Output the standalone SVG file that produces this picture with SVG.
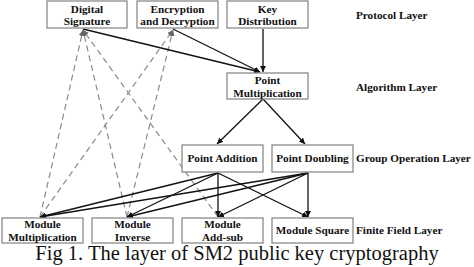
<svg xmlns="http://www.w3.org/2000/svg" width="474" height="267" viewBox="0 0 474 267">
<style>
.box{fill:#fff;stroke:#8a8a8a;stroke-width:1.3}
.t{font-family:"Liberation Serif","Times New Roman",serif;font-weight:bold;font-size:11.2px;fill:#111;text-anchor:middle}
.lbl{font-family:"Liberation Serif","Times New Roman",serif;font-weight:bold;font-size:11.2px;fill:#111}
.s{stroke:#111;stroke-width:1.3;fill:none;marker-end:url(#ah)}
.d{stroke:#8a8a8a;stroke-width:1.2;fill:none;stroke-dasharray:6,4;marker-end:url(#ahg)}
.cap{font-family:"Liberation Serif","Times New Roman",serif;font-size:20.5px;fill:#111;text-anchor:middle}
</style>
<defs>
<marker id="ah" viewBox="0 0 10 10" refX="10" refY="5" markerWidth="6" markerHeight="6" markerUnits="userSpaceOnUse" orient="auto"><path d="M0,0 L10,5 L0,10 z" fill="#111"/></marker>
<marker id="ahg" viewBox="0 0 10 10" refX="10" refY="5" markerWidth="6" markerHeight="6" markerUnits="userSpaceOnUse" orient="auto"><path d="M0,0 L10,5 L0,10 z" fill="#666"/></marker>
</defs>
<rect width="474" height="267" fill="#fff"/>
<g id="connectors">
<line class="d" x1="40" y1="217" x2="83" y2="30"/>
<line class="d" x1="127" y1="217" x2="83" y2="30"/>
<line class="d" x1="218" y1="217" x2="83" y2="30"/>
<line class="d" x1="40" y1="217" x2="173" y2="30"/>
<line class="d" x1="127" y1="217" x2="173" y2="30"/>
<line class="s" x1="83" y1="29" x2="260" y2="72"/>
<line class="s" x1="173" y1="29" x2="260" y2="72"/>
<line class="s" x1="263" y1="29" x2="263" y2="72"/>
<line class="s" x1="263" y1="99" x2="217" y2="144"/>
<line class="s" x1="263" y1="99" x2="305" y2="144"/>
<line class="s" x1="218" y1="173" x2="40" y2="217"/>
<line class="s" x1="218" y1="173" x2="127" y2="217"/>
<line class="s" x1="218" y1="173" x2="218" y2="217"/>
<line class="s" x1="218" y1="173" x2="308" y2="217"/>
<line class="s" x1="308" y1="173" x2="40" y2="217"/>
<line class="s" x1="308" y1="173" x2="127" y2="217"/>
<line class="s" x1="308" y1="173" x2="218" y2="217"/>
<line class="s" x1="308" y1="173" x2="308" y2="217"/>
</g>
<g id="digital-signature"><rect class="box" x="47" y="1" width="80" height="27"/><text class="t" x="87" y="12.5">Digital</text><text class="t" x="87" y="25">Signature</text></g>
<g id="encryption"><rect class="box" x="137" y="1" width="81" height="27"/><text class="t" x="177.5" y="12.5">Encryption</text><text class="t" x="177.5" y="25">and Decryption</text></g>
<g id="key-distribution"><rect class="box" x="227" y="1" width="81" height="27"/><text class="t" x="267.5" y="12.5">Key</text><text class="t" x="267.5" y="25">Distribution</text></g>
<g id="point-multiplication"><rect class="box" x="227" y="73" width="81" height="26"/><text class="t" x="267.5" y="84">Point</text><text class="t" x="267.5" y="96.5">Multiplication</text></g>
<g id="point-addition"><rect class="box" x="182" y="145" width="81" height="27"/><text class="t" x="222.5" y="162">Point Addition</text></g>
<g id="point-doubling"><rect class="box" x="272" y="145" width="81" height="27"/><text class="t" x="312.5" y="162">Point Doubling</text></g>
<g id="module-multiplication"><rect class="box" x="2" y="218" width="81" height="25"/><text class="t" x="42.5" y="228">Module</text><text class="t" x="42.5" y="240.5">Multiplication</text></g>
<g id="module-inverse"><rect class="box" x="92" y="218" width="81" height="25"/><text class="t" x="132.5" y="228">Module</text><text class="t" x="132.5" y="240.5">Inverse</text></g>
<g id="module-add-sub"><rect class="box" x="182" y="218" width="81" height="25"/><text class="t" x="222.5" y="228">Module</text><text class="t" x="222.5" y="240.5">Add-sub</text></g>
<g id="module-square"><rect class="box" x="272" y="218" width="81" height="25"/><text class="t" x="312.5" y="234">Module Square</text></g>
<g id="layers">
<text class="lbl" x="356" y="19">Protocol Layer</text>
<text class="lbl" x="356" y="91">Algorithm Layer</text>
<text class="lbl" x="356" y="162">Group Operation Layer</text>
<text class="lbl" x="356" y="234">Finite Field Layer</text>
</g>
<text class="cap" x="237" y="260">Fig 1. The layer of SM2 public key cryptography</text>
</svg>
